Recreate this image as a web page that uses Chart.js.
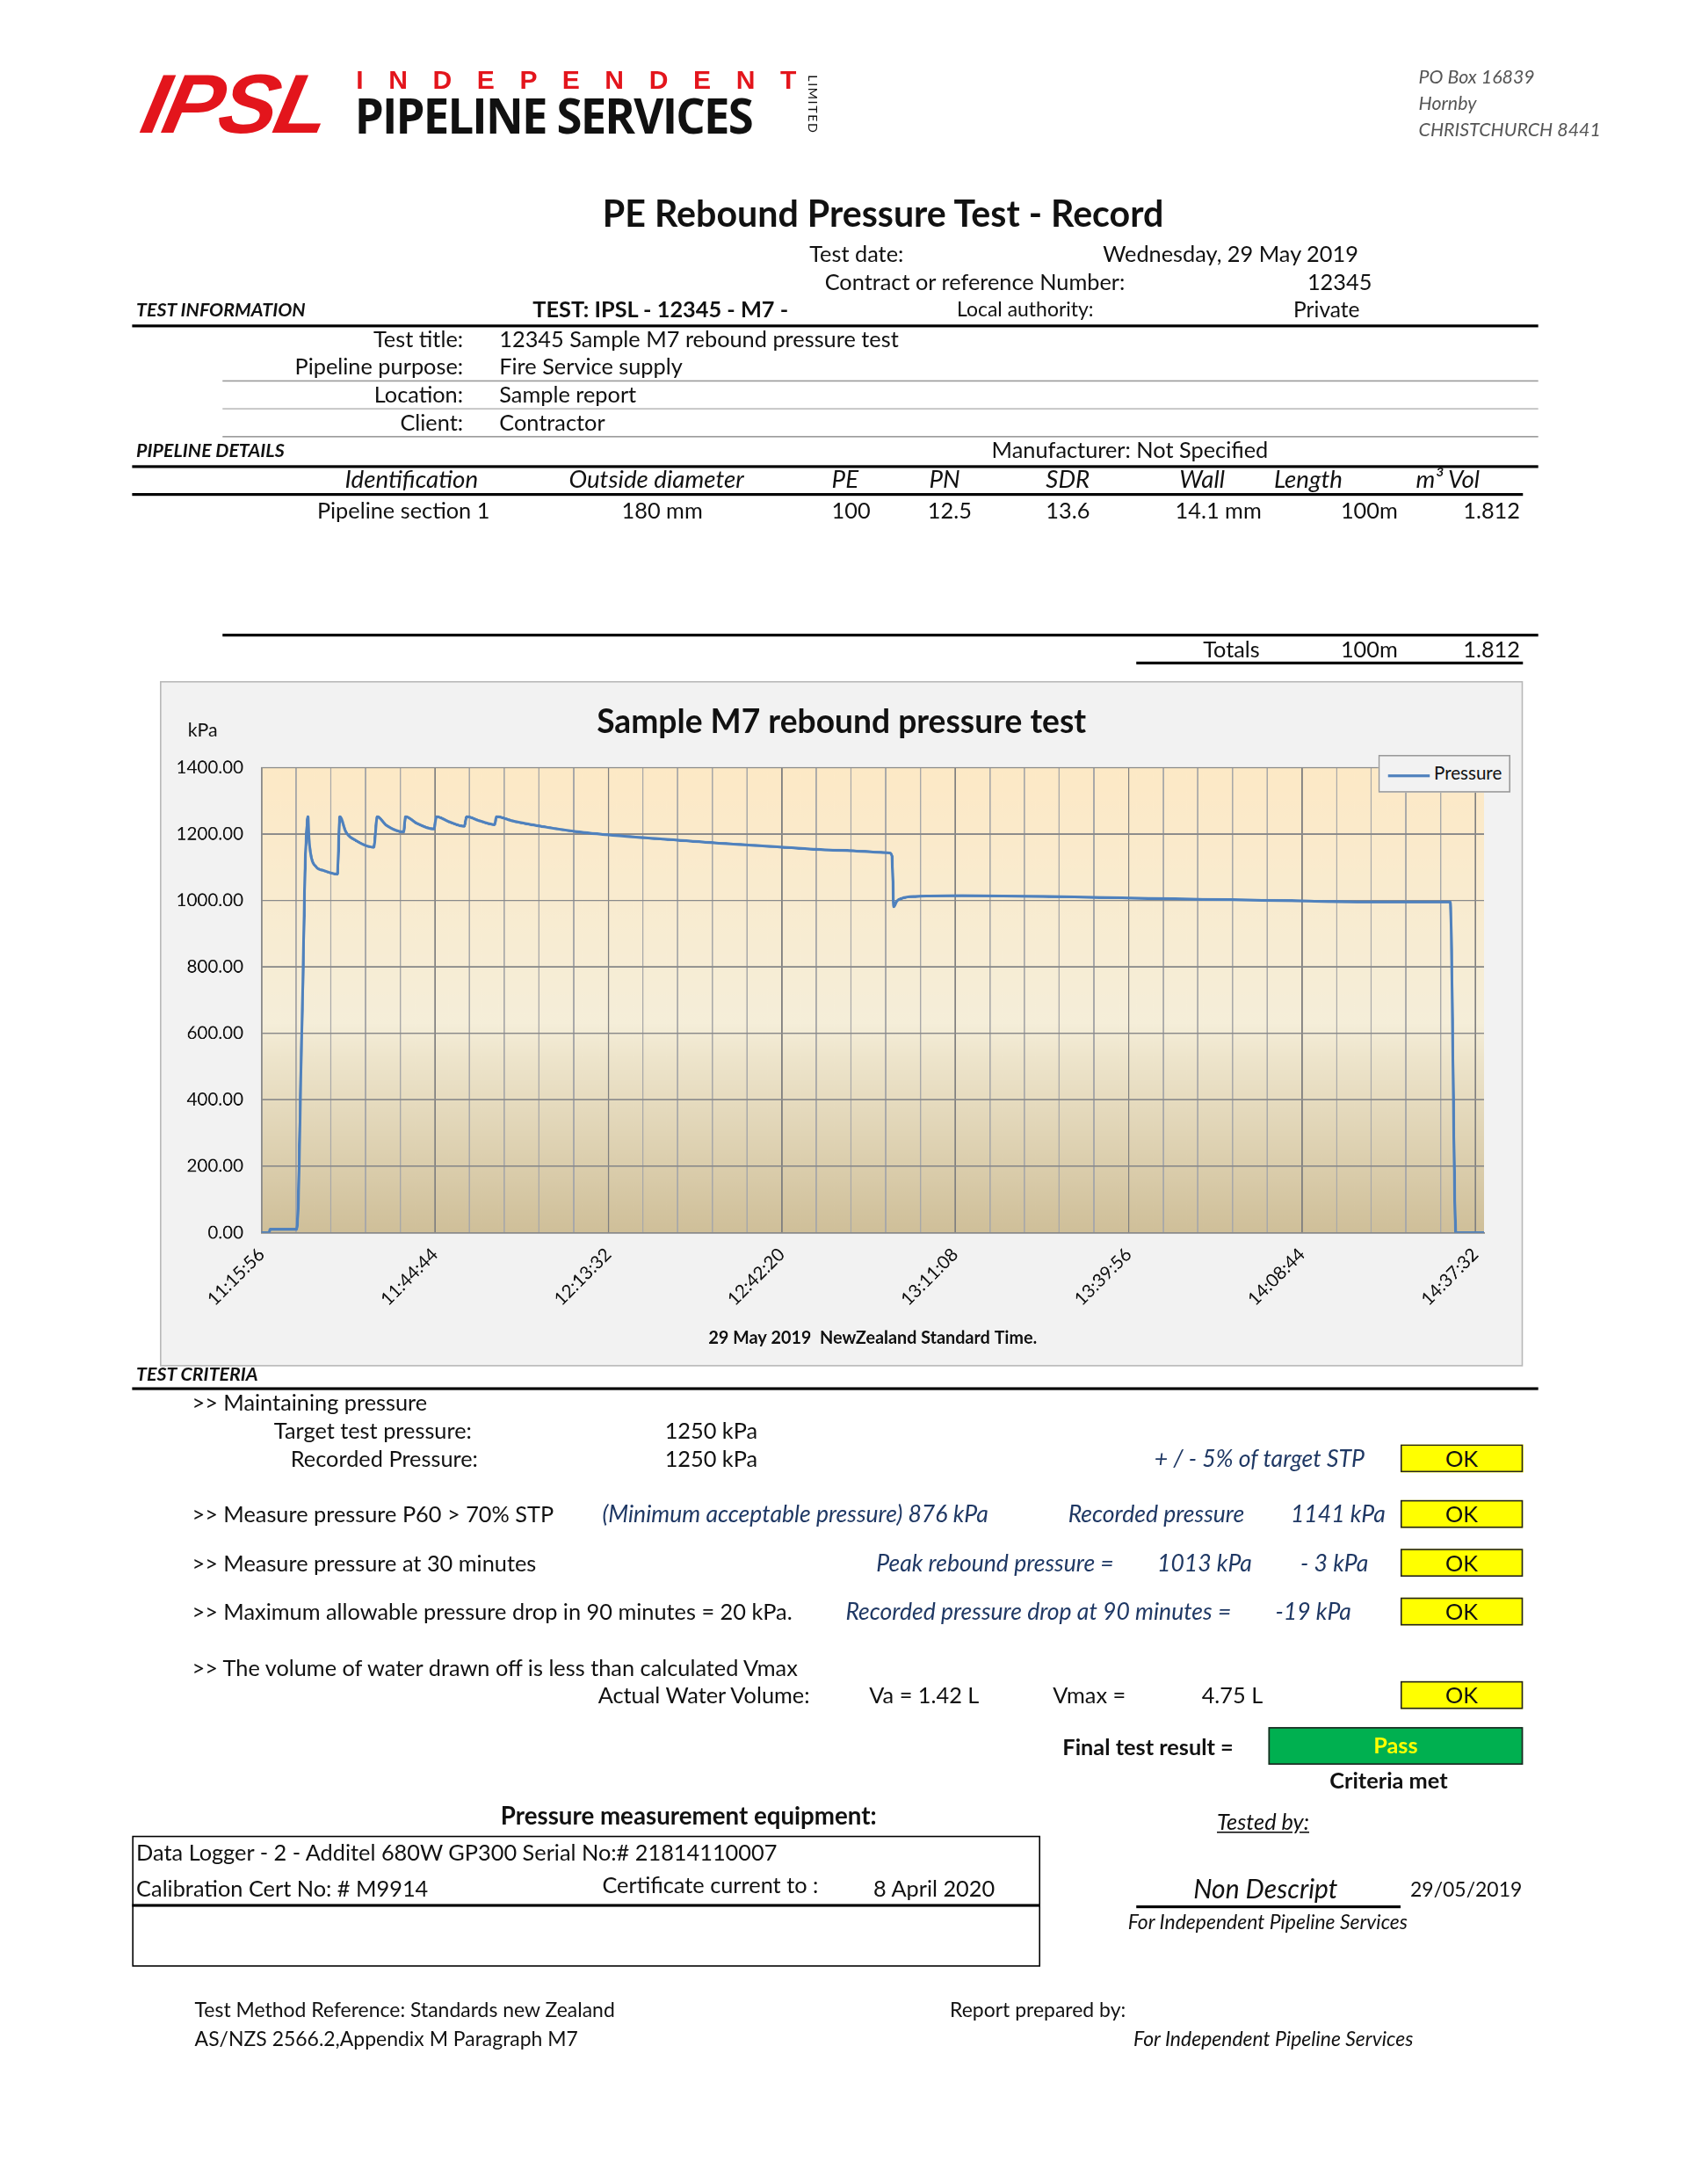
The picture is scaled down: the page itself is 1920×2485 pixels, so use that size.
<!DOCTYPE html>
<html><head><meta charset="utf-8">
<script src="https://cdn.jsdelivr.net/npm/chart.js@4"></script>
<style>
html,body{margin:0;padding:0;background:#fff;}
#page{position:absolute;left:0;top:0;width:1213px;height:1568px;transform-origin:0 0;transform:scale(1.5829,1.5848);font-family:Lato,"Noto Sans",sans-serif;font-size:16px;color:#111;}
.t{position:absolute;white-space:nowrap;line-height:20px;}
.hl{position:absolute;background:#000;}
.ok{position:absolute;background:#ffff00;border:1.5px solid #222;text-align:center;line-height:17px;font-size:16px;}
.bl{color:#1f3864;font-style:italic;font-size:16.8px;}
</style></head><body>
<div id="page">
  <div id="chartbox" style="position:absolute;left:115px;top:489px;width:980px;height:492px;background:#f2f2f2;border:1px solid #b8b8b8;box-sizing:border-box;">
    <canvas id="c"></canvas>
  </div>
</div>
<script>
// ---- chart data (time in seconds after 11:15:56, pressure in kPa) ----
const startClock = 40556; // 11:15:56
const timeSec = [0,76,86,348,368,393,413,433,448,463,473,494,544,618,756,781,841,942,1118,1154,1244,1416,1436,1547,1718,1743,1874,2020,2045,2176,2322,2343,2504,2806,3159,3461,4015,4519,5194,5728,6257,6282,6292,6300,6307,6330,6380,6530,6660,6974,7789,8634,9449,10265,11079,11845,11902,12182];
const pressure = [0,0,10,10,100,492,754,1082,1200,1252,1187,1134,1101,1090,1079,1252,1206,1180,1160,1252,1226,1206,1252,1232,1215,1252,1236,1223,1252,1239,1228,1252,1239,1222,1206,1197,1184,1173,1160,1151,1143,1134,1056,981,983,997,1006,1012,1013,1014,1012,1007,1003,999,995,995,0,0];
const xMax = 12182;
const majorStep = 1728, minorStep = 345.6;
const yTicks = [0,200,400,600,800,1000,1200,1400];
const seriesName = 'Pressure';
const chartTitle = 'Sample M7 rebound pressure test';
const xTitle = '29 May 2019  NewZealand Standard Time.';

function clock(s){s=Math.round(startClock+s);const h=Math.floor(s/3600),m=Math.floor(s%3600/60),x=s%60;return h+':'+String(m).padStart(2,'0')+':'+String(x).padStart(2,'0');}
function isMajor(v){const k=v/majorStep;return Math.abs(k-Math.round(k))<1e-6;}

const bgPlugin={id:'bg',beforeDraw(ch){const a=ch.chartArea,c=ch.ctx;const g=c.createLinearGradient(0,a.top,0,a.bottom);
g.addColorStop(0,'#fde9c6');g.addColorStop(0.55,'#f5eed9');g.addColorStop(0.62,'#eee5cc');g.addColorStop(1,'#cfbf99');
c.save();c.fillStyle=g;c.fillRect(a.left,a.top,a.right-a.left,a.bottom-a.top);c.restore();}};

new Chart(document.getElementById('c'),{
 type:'line',
 data:{datasets:[{label:seriesName,data:timeSec.map((t,i)=>({x:t,y:pressure[i]})),borderColor:'#4f81bd',borderWidth:2,pointRadius:0,cubicInterpolationMode:'monotone',fill:false}]},
 options:{responsive:true,maintainAspectRatio:false,animation:false,devicePixelRatio:3,
  layout:{padding:{left:0,right:27,top:61,bottom:12}},
  plugins:{legend:{display:false},title:{display:false},tooltip:{enabled:false}},
  scales:{
   x:{type:'linear',min:0,max:xMax,
     afterBuildTicks(s){const a=[];for(let v=0;v<=xMax+1e-6;v+=minorStep)a.push({value:Math.round(v*10)/10});s.ticks=a;},
     afterFit(s){s.height=83;},
     grid:{color:c=>isMajor(c.tick.value)?'#7f7f7f':'#a8a8a8',lineWidth:1,drawTicks:false},
     border:{color:'#8a8a8a'},
     ticks:{autoSkip:false,maxRotation:45,minRotation:45,padding:8,color:'#111',font:{family:'Lato',size:13},callback:v=>isMajor(v)?clock(v):''},
     title:{display:true,text:xTitle,color:'#111',font:{family:'Lato',size:12.5,weight:'bold'},padding:{top:0,bottom:0}}},
   y:{min:0,max:1400,
     afterBuildTicks(s){s.ticks=yTicks.map(v=>({value:v}));},
     afterFit(s){s.width=72;},
     grid:{color:'#8a8a8a',drawTicks:false},border:{color:'#8a8a8a'},
     ticks:{padding:13,color:'#111',font:{family:'Lato',size:13},callback:v=>v.toFixed(2)}}
  }},
 plugins:[bgPlugin]
});

// ---- page text ----
const P=document.getElementById('page');
function T(x,y,s,st,align){const e=document.createElement('div');e.className='t';e.textContent=s;e.style.top=(y-10)+'px';
 if(align==='r'){e.style.right=(1213-x)+'px';}else if(align==='c'){e.style.left=(x-300)+'px';e.style.width='600px';e.style.textAlign='center';}else e.style.left=x+'px';
 if(st)e.style.cssText+=st;P.appendChild(e);return e;}
function B(x,y,s,st){const e=T(x,y,s,st);e.className='t bl';return e;}
function L(x1,x2,y,h,col){const e=document.createElement('div');e.className='hl';e.style.left=x1+'px';e.style.width=(x2-x1)+'px';e.style.top=y+'px';e.style.height=h+'px';if(col)e.style.background=col;P.appendChild(e);}
function OK(y){const e=document.createElement('div');e.className='ok';e.style.left='1007px';e.style.width='88px';e.style.top=(y-10)+'px';e.style.height='20px';e.style.boxSizing='border-box';e.textContent='OK';P.appendChild(e);}

// header / logo
T(97,75,'IPSL','font-size:60px;line-height:60px;top:45px;font-weight:900;font-style:italic;color:#e3151c;letter-spacing:-2px;font-family:"Liberation Sans",sans-serif;transform:skewX(-12deg) scaleX(1.05);transform-origin:0 100%;');
T(256,58,'I N D E P E N D E N T','font-size:19px;color:#e3151c;letter-spacing:6.4px;font-family:"Liberation Sans";font-weight:bold;');
T(255,83,'PIPELINE SERVICES','font-size:35px;line-height:36px;top:65px;font-weight:bold;font-family:"Open Sans";letter-spacing:-1.2px;transform:scaleX(0.95);transform-origin:0 0;');
T(592,75,'LIMITED','font-size:9px;line-height:10px;top:70px;left:563px;transform:rotate(90deg);transform-origin:center;letter-spacing:1px;');
T(1020,55,'PO Box 16839','font-size:13.5px;font-style:italic;color:#555;');
T(1020,74,'Hornby','font-size:13.5px;font-style:italic;color:#555;');
T(1020,93,'CHRISTCHURCH 8441','font-size:13.5px;font-style:italic;color:#555;');
T(635,153,'PE Rebound Pressure Test - Record','font-size:26px;font-weight:bold;line-height:30px;top:138px;','c');
T(582,182,'Test date:');T(793,182,'Wednesday, 29 May 2019');
T(593,202,'Contract or reference Number:');T(940,202,'12345');
T(98,222,'TEST INFORMATION','font-size:13.5px;font-weight:bold;font-style:italic;');
T(383,222,'TEST: IPSL - 12345 - M7 -','font-weight:bold;');
T(688,222,'Local authority:','font-size:14.5px;');T(930,222,'Private','font-size:15.5px;');
L(95,1106,233,2);
[['Test title:','12345 Sample M7 rebound pressure test',243],['Pipeline purpose:','Fire Service supply',263],['Location:','Sample report',283],['Client:','Contractor',303]].forEach(r=>{T(333,r[2],r[0],'', 'r');T(359,r[2],r[1]);});
L(160,1106,273,1,'#999');L(160,1106,293,1,'#bbb');L(160,1106,313,1,'#999');
T(98,323,'PIPELINE DETAILS','font-size:13.5px;font-weight:bold;font-style:italic;');
T(713,323,'Manufacturer: Not Specified');
L(95,1106,334,2);
[['Identification',248],['Outside diameter',409],['PE',598],['PN',668],['SDR',752],['Wall',848],['Length',916],['m³ Vol',1018]].forEach(h=>T(h[1],344,h[0],'font-style:italic;font-size:17.5px;'));
L(95,1095,354,2);
[['Pipeline section 1',228],['180 mm',447],['100',598],['12.5',667],['13.6',752],['14.1 mm',845],['100m',964],['1.812',1052]].forEach(h=>T(h[1],366,h[0]));
L(160,1106,455,1.5);
T(865,466,'Totals');T(964,466,'100m');T(1052,466,'1.812');
L(817,1095,475,1.5);

// chart overlays
T(605,517,chartTitle,'font-size:23.5px;font-weight:bold;line-height:28px;top:503px;','c');
T(135,524,'kPa','font-size:13.5px;');
const lg=document.createElement('div');lg.style.cssText='position:absolute;left:991px;top:542px;width:95px;height:27px;border:1px solid #999;background:#f2f2f2;box-sizing:border-box;font-size:13px;line-height:25px;';
lg.innerHTML='<span style="display:inline-block;width:30px;height:2px;background:#4f81bd;vertical-align:middle;margin:0 3px 0 6px"></span>'+seriesName;P.appendChild(lg);

// criteria
T(98,986,'TEST CRITERIA','font-size:13.5px;font-weight:bold;font-style:italic;');
L(95,1106,996,2);
T(138,1007,'>> Maintaining pressure');
T(197,1027,'Target test pressure:');T(478,1027,'1250 kPa');
T(209,1047,'Recorded Pressure:');T(478,1047,'1250 kPa');
B(830,1047,'+ / - 5% of target STP');OK(1047);
T(138,1087,'>> Measure pressure P60 > 70% STP');
B(433,1087,'(Minimum acceptable pressure)  876 kPa');
B(768,1087,'Recorded pressure');B(928,1087,'1141 kPa');OK(1087);
T(138,1122,'>> Measure pressure at 30 minutes');
B(630,1122,'Peak rebound pressure =');B(832,1122,'1013 kPa');B(935,1122,'- 3 kPa');OK(1122);
T(138,1157,'>> Maximum allowable pressure drop in 90 minutes = 20 kPa.');
B(608,1157,'Recorded pressure drop at 90 minutes =');B(917,1157,'-19 kPa');OK(1157);
T(138,1197,'>> The volume of water drawn off is less than calculated Vmax');
T(430,1217,'Actual Water Volume:');T(625,1217,'Va = 1.42 L');T(757,1217,'Vmax =');T(864,1217,'4.75 L');OK(1217);
T(764,1254,'Final test result =','font-weight:bold;');
const ps=document.createElement('div');ps.style.cssText='position:absolute;left:912px;top:1240px;width:183px;height:27px;background:#00b050;border:1.5px solid #222;box-sizing:border-box;color:#ffff00;font-weight:bold;text-align:center;line-height:24px;font-size:16px;';ps.textContent='Pass';P.appendChild(ps);
T(956,1278,'Criteria met','font-weight:bold;');

// equipment
T(360,1304,'Pressure measurement equipment:','font-weight:bold;font-size:17.5px;');
const bx=document.createElement('div');bx.style.cssText='position:absolute;left:95px;top:1318px;width:653px;height:94px;border:1.5px solid #000;box-sizing:border-box;';P.appendChild(bx);
L(95,748,1367,1.5);
T(98,1330,'Data Logger - 2 - Additel 680W GP300 Serial No:# 21814110007');
T(98,1356,'Calibration Cert No: # M9914');T(433,1353,'Certificate current to :');T(628,1356,'8 April 2020');
T(875,1308,'Tested by:','font-style:italic;text-decoration:underline;');
T(858,1356,'Non Descript','font-style:italic;font-size:19px;');L(817,1007,1368,1.5);
T(1014,1357,'29/05/2019','font-size:14.5px;');
T(811,1380,'For Independent Pipeline Services','font-style:italic;font-size:14.5px;');
T(140,1443,'Test Method Reference: Standards new Zealand','font-size:14.5px;');
T(140,1464,'AS/NZS 2566.2,Appendix M Paragraph M7','font-size:14.5px;');
T(683,1443,'Report prepared by:','font-size:14.5px;');
T(815,1464,'For Independent Pipeline Services','font-style:italic;font-size:14.5px;');
</script></body></html>
